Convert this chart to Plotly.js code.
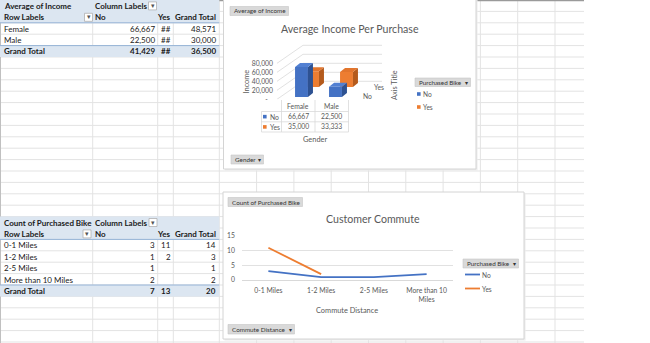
<!DOCTYPE html>
<html><head><meta charset="utf-8">
<script src="https://cdn.plot.ly/plotly-3.0.1.min.js"></script>
<style>html,body{margin:0;padding:0;background:#fff;}#chart{width:650px;height:343px;}</style>
</head><body><div id="chart"></div>
<script>
// ---------------- data ----------------
const genders = ['Female', 'Male'];
const purchaseSeries = ['No', 'Yes'];
const incomeNo = [66667, 22500];
const incomeYes = [35000, 33333];
const incomeRowTotal = [48571, 30000];
const incomeGrandNo = 41429;
const incomeGrandTotal = 36500;
const incomeYesShown = ['##', '##', '##'];
const incomeTicks = [0, 20000, 40000, 60000, 80000];
const incomeTickText = ['-\u00a0\u00a0\u00a0', '20,000', '40,000', '60,000', '80,000'];

const distances = ['0-1 Miles', '1-2 Miles', '2-5 Miles', 'More than 10 Miles'];
const countNo = [3, 1, 1, 2];
const countYes = [11, 2, null, null];
const countRowTotal = [14, 3, 1, 2];
const countGrand = [7, 13, 20];
const countTicks = [0, 5, 10, 15];

// ---------------- helpers ----------------
const W = 650, H = 343;
const px = x => x / W;
const py = y => 1 - y / H;
const domX = (a, b) => [px(a), px(b)];
const domY = (top, bottom) => [py(bottom), py(top)];
const fmt = v => v.toLocaleString('en-US');
const FONT = 'Lato';
const BLUE = '#4472C4', ORANGE = '#ED7D31', GREY = '#595959';

const shapes = [];
const annotations = [];
function line(x0, y0, x1, y1, color, width, layer) {
  shapes.push({type: 'line', xref: 'paper', yref: 'paper', x0: px(x0), y0: py(y0), x1: px(x1), y1: py(y1),
    line: {color: color, width: width}, layer: layer || 'below'});
}
function rect(x0, y0, x1, y1, fill, lineColor, lw, layer) {
  shapes.push({type: 'rect', xref: 'paper', yref: 'paper', x0: px(x0), y0: py(y0), x1: px(x1), y1: py(y1),
    fillcolor: fill, line: {color: lineColor || fill, width: lineColor ? lw : 0}, layer: layer || 'below'});
}
function txt(x, y, text, o) {
  o = o || {};
  annotations.push({xref: 'paper', yref: 'paper', x: px(x), y: py(y), text: o.bold ? '<b>' + text + '</b>' : text,
    showarrow: false, xanchor: o.anchor || 'left', yanchor: 'middle', textangle: o.angle || 0, borderpad: 0,
    font: {family: o.family || FONT, size: o.size || 8, color: o.color || '#1a1a1a'}});
}
function pivotDrop(x0, yc) {
  rect(x0, yc - 4, x0 + 8, yc + 4, '#ffffff', '#a8a8a8', 0.7, 'above');
  txt(x0 + 4, yc, '▾', {size: 7, family: 'DejaVu Sans', color: '#555', anchor: 'center'});
}
function fieldBtn(x0, y0, x1, y1, label, arrow) {
  rect(x0, y0, x1, y1, '#d9d9d9', '#c6c6c6', 0.6, 'above');
  txt(x0 + 2.5, (y0 + y1) / 2, label, {size: 6.3, color: '#333'});
  if (arrow) txt(x1 - 4, (y0 + y1) / 2, '▾', {size: 6, family: 'DejaVu Sans', color: '#333', anchor: 'center'});
}

// ---------------- spreadsheet background ----------------
const ROW = 11.4, GRID_RIGHT = 584;
const rc = k => ROW * k + 5.9;
for (let k = 1; k * ROW < H; k++) line(0, k * ROW, GRID_RIGHT, k * ROW, '#e3e3e3', 1);
const colX = [92.7, 157.7, 173.3, 219.3];
for (let x = 256.6; x < GRID_RIGHT; x += 37.3) colX.push(x);
colX.forEach(x => line(x, 0, x, H, '#e3e3e3', 1));
line(0, 0.6, GRID_RIGHT, 0.6, '#9a9a9a', 1.5);
line(0.5, 0, 0.5, H, '#c0c0c0', 1);

// pivot table 1
const HDR = '#DCE6F1', HLINE = '#95B3D7';
rect(0, 0, 219.3, 2 * ROW, HDR);
rect(0, 4 * ROW, 219.3, 5 * ROW, HDR);
line(0, 2 * ROW, 219.3, 2 * ROW, HLINE, 1);
line(0, 4 * ROW, 219.3, 4 * ROW, HLINE, 1);
// pivot table 2
const T2 = 19;
rect(0, T2 * ROW, 219.3, (T2 + 2) * ROW, HDR);
rect(0, (T2 + 6) * ROW, 219.3, (T2 + 7) * ROW, HDR);
line(0, (T2 + 2) * ROW, 219.3, (T2 + 2) * ROW, HLINE, 1);
line(0, (T2 + 6) * ROW, 219.3, (T2 + 6) * ROW, HLINE, 1);

// chart boxes
rect(225, 0, 477.5, 170.5, '#ececec');
rect(223.5, -1, 476, 169, '#ffffff', '#d4d4d4', 1);
rect(224.5, 193, 525.5, 340.5, '#ececec');
rect(223, 192, 524, 339, '#ffffff', '#d4d4d4', 1);

// 3D walls (gridlines of the income axis) on y4 scale
const WALL_FRONT = 277, WALL_BACK = 303, WALL_RIGHT = 382, WALL_DEPTH = 40000;
incomeTicks.forEach(v => {
  shapes.push({type: 'line', xref: 'paper', yref: 'y4', x0: px(WALL_FRONT), x1: px(WALL_BACK), y0: v, y1: v + WALL_DEPTH,
    line: {color: '#d9d9d9', width: 0.8}, layer: 'below'});
  shapes.push({type: 'line', xref: 'paper', yref: 'y4', x0: px(WALL_BACK), x1: px(WALL_RIGHT), y0: v + WALL_DEPTH, y1: v + WALL_DEPTH,
    line: {color: '#d9d9d9', width: 0.8}, layer: 'below'});
});

// ---------------- pivot table texts ----------------
const C_NO_R = 155.5, C_YES_R = 172, C_YES_C = 165.5, C_TOT_R = 217.5, C_B = 94;
txt(3, rc(0), 'Average of Income', {bold: true});
txt(C_B, rc(0), 'Column Labels', {bold: true});
pivotDrop(148.5, rc(0));
txt(3, rc(1), 'Row Labels', {bold: true});
pivotDrop(84.5, rc(1));
txt(C_B, rc(1), purchaseSeries[0], {bold: true});
txt(C_YES_R, rc(1), purchaseSeries[1], {bold: true, anchor: 'right'});
txt(C_TOT_R, rc(1), 'Grand Total', {bold: true, anchor: 'right'});
genders.forEach((g, i) => {
  txt(3, rc(2 + i), g);
  txt(C_NO_R, rc(2 + i), fmt(incomeNo[i]), {anchor: 'right'});
  txt(C_YES_C, rc(2 + i), incomeYesShown[i], {anchor: 'center'});
  txt(C_TOT_R, rc(2 + i), fmt(incomeRowTotal[i]), {anchor: 'right'});
});
txt(3, rc(4), 'Grand Total', {bold: true});
txt(C_NO_R, rc(4), fmt(incomeGrandNo), {bold: true, anchor: 'right'});
txt(C_YES_C, rc(4), incomeYesShown[2], {bold: true, anchor: 'center'});
txt(C_TOT_R, rc(4), fmt(incomeGrandTotal), {bold: true, anchor: 'right'});

txt(3, rc(T2), 'Count of Purchased Bike', {bold: true});
txt(C_B, rc(T2), 'Column Labels', {bold: true});
pivotDrop(149, rc(T2));
txt(3, rc(T2 + 1), 'Row Labels', {bold: true});
pivotDrop(83, rc(T2 + 1));
txt(C_B, rc(T2 + 1), purchaseSeries[0], {bold: true});
txt(C_YES_R, rc(T2 + 1), purchaseSeries[1], {bold: true, anchor: 'right'});
txt(C_TOT_R, rc(T2 + 1), 'Grand Total', {bold: true, anchor: 'right'});
distances.forEach((d, i) => {
  const r = rc(T2 + 2 + i);
  txt(3, r, d);
  if (countNo[i] != null) txt(C_NO_R, r, String(countNo[i]), {anchor: 'right'});
  if (countYes[i] != null) txt(C_YES_R, r, String(countYes[i]), {anchor: 'right'});
  txt(C_TOT_R, r, String(countRowTotal[i]), {anchor: 'right'});
});
txt(3, rc(T2 + 6), 'Grand Total', {bold: true});
txt(C_NO_R, rc(T2 + 6), String(countGrand[0]), {bold: true, anchor: 'right'});
txt(C_YES_R, rc(T2 + 6), String(countGrand[1]), {bold: true, anchor: 'right'});
txt(C_TOT_R, rc(T2 + 6), String(countGrand[2]), {bold: true, anchor: 'right'});

// ---------------- chart 1 : 3D clustered column ----------------
fieldBtn(230, 6.5, 288.5, 15.5, 'Average of Income', false);
txt(350, 28.5, 'Average Income Per Purchase', {size: 10.6, color: GREY, anchor: 'center'});
txt(246, 81.5, 'Income', {size: 7.4, color: GREY, anchor: 'center', angle: -90});
txt(394, 85, 'Axis Title', {size: 7.4, color: GREY, anchor: 'center', angle: -90});
txt(367, 95.5, purchaseSeries[0], {size: 6.8, color: GREY, anchor: 'center'});
txt(379, 87.5, purchaseSeries[1], {size: 6.8, color: GREY, anchor: 'center'});
txt(315, 139.5, 'Gender', {size: 7.4, color: GREY, anchor: 'center'});
fieldBtn(231, 155, 263.5, 164, 'Gender', true);
// legend
fieldBtn(415, 78, 470.5, 86.5, 'Purchased Bike', true);
[BLUE, ORANGE].forEach((c, i) => {
  const y = 94 + i * 13;
  rect(417, y - 1.8, 420.6, y + 1.8, c, null, 0, 'above');
  txt(422, y, purchaseSeries[i], {size: 6.6, color: GREY});
});
// data table
const TB_L = 261.5, TB_C = [281.5, 315, 348.5], TB_Y = [100, 111.5, 121.8, 132];
TB_C.forEach(x => line(x, TB_Y[0], x, TB_Y[3], '#d9d9d9', 0.8, 'above'));
line(TB_L, TB_Y[1], TB_L, TB_Y[3], '#d9d9d9', 0.8, 'above');
[1, 2, 3].forEach(k => line(TB_L, TB_Y[k], TB_C[2], TB_Y[k], '#d9d9d9', 0.8, 'above'));
genders.forEach((g, i) => txt((TB_C[i] + TB_C[i + 1]) / 2, 106, g, {size: 6.8, color: GREY, anchor: 'center'}));
[incomeNo, incomeYes].forEach((arr, s) => {
  const y = (TB_Y[1 + s] + TB_Y[2 + s]) / 2;
  rect(263, y - 1.8, 266.6, y + 1.8, [BLUE, ORANGE][s], null, 0, 'above');
  txt(268.8, y, purchaseSeries[s], {size: 6.8, color: GREY});
  arr.forEach((v, i) => txt((TB_C[i] + TB_C[i + 1]) / 2, y, fmt(v), {size: 6.8, color: GREY, anchor: 'center'}));
});

// ---------------- chart 2 : line ----------------
fieldBtn(228, 197.5, 302.5, 206.5, 'Count of Purchased Bike', false);
txt(373, 219.5, 'Customer Commute', {size: 10.6, color: GREY, anchor: 'center'});
txt(347, 310.5, 'Commute Distance', {size: 7.4, color: GREY, anchor: 'center'});
fieldBtn(228, 324.5, 294.5, 334, 'Commute Distance', true);
fieldBtn(463, 259, 518.5, 268, 'Purchased Bike', true);
[BLUE, ORANGE].forEach((c, i) => {
  const y = 274.5 + i * 14;
  line(465, y, 480, y, c, 1.8, 'above');
  txt(480.5, y, purchaseSeries[i], {size: 6.6, color: GREY});
});

// ---------------- traces ----------------
const BAR_W = 0.38, SIDE_DX = 5 / 34, SIDE_DY = 4 / 0.00045;
function prismFaces(values, xa, ya, sideColor, topColor) {
  const out = [];
  values.forEach((v, i) => {
    const r = i + BAR_W / 2, l = i - BAR_W / 2;
    out.push({type: 'scatter', mode: 'lines', xaxis: xa, yaxis: ya, fill: 'toself', fillcolor: sideColor,
      line: {width: 0, color: sideColor}, hoverinfo: 'skip', showlegend: false,
      x: [r, r + SIDE_DX, r + SIDE_DX, r, r], y: [0, SIDE_DY, v + SIDE_DY, v, 0]});
    out.push({type: 'scatter', mode: 'lines', xaxis: xa, yaxis: ya, fill: 'toself', fillcolor: topColor,
      line: {width: 0, color: topColor}, hoverinfo: 'skip', showlegend: false,
      x: [l, r, r + SIDE_DX, l + SIDE_DX, l], y: [v, v, v + SIDE_DY, v + SIDE_DY, v]});
  });
  return out;
}
const xIdx = genders.map((g, i) => i);
const traces = [];
// back row (Yes)
traces.push({type: 'bar', name: purchaseSeries[1], x: xIdx, y: incomeYes, width: BAR_W, xaxis: 'x', yaxis: 'y',
  marker: {color: ORANGE, line: {width: 0}}, hoverinfo: 'skip', showlegend: false});
traces.push(...prismFaces(incomeYes, 'x', 'y', '#B45A1C', '#E2752D'));
// front row (No)
traces.push({type: 'bar', name: purchaseSeries[0], x: xIdx, y: incomeNo, width: BAR_W, xaxis: 'x2', yaxis: 'y2',
  marker: {color: BLUE, line: {width: 0}}, hoverinfo: 'skip', showlegend: false});
traces.push(...prismFaces(incomeNo, 'x2', 'y2', '#2E5292', '#5280D2'));
// line chart
const distIdx = distances.map((d, i) => i);
traces.push({type: 'scatter', mode: 'lines', name: purchaseSeries[0], x: distIdx, y: countNo, xaxis: 'x3', yaxis: 'y3',
  line: {color: BLUE, width: 1.8}, showlegend: false, hoverinfo: 'skip'});
traces.push({type: 'scatter', mode: 'lines', name: purchaseSeries[1], x: distIdx, y: countYes, xaxis: 'x3', yaxis: 'y3',
  line: {color: ORANGE, width: 1.8}, showlegend: false, hoverinfo: 'skip'});

const wrapLabel = s => s.length > 12 ? s.replace(/ (\S+)$/, '<br>$1') : s;
const hidden = {visible: false, fixedrange: true};
const layout = {
  width: W, height: H, margin: {l: 0, r: 0, t: 0, b: 0, pad: 0},
  paper_bgcolor: '#ffffff', plot_bgcolor: 'rgba(0,0,0,0)', showlegend: false,
  font: {family: FONT, color: GREY},
  xaxis: Object.assign({domain: domX(295.5, 363.5), range: [-0.5, 1.5], anchor: 'y'}, hidden),
  yaxis: Object.assign({domain: domY(42, 87), range: [0, 100000], anchor: 'x'}, hidden),
  xaxis2: Object.assign({domain: domX(284.5, 352.5), range: [-0.5, 1.5], anchor: 'y2'}, hidden),
  yaxis2: Object.assign({domain: domY(52, 97), range: [0, 100000], anchor: 'x2'}, hidden),
  xaxis3: {domain: domX(242, 453), range: [-0.5, 3.5], anchor: 'y3', tickvals: distIdx, ticktext: distances.map(wrapLabel),
    showgrid: false, zeroline: false, showline: true, linecolor: '#d9d9d9', linewidth: 1, ticks: '',
    tickfont: {family: FONT, size: 6.8, color: GREY}, ticklabelstandoff: 4, fixedrange: true},
  yaxis3: {domain: domY(236, 280), range: [0, 15], anchor: 'x3', tickvals: countTicks, showgrid: true,
    gridcolor: '#d9d9d9', gridwidth: 0.8, zeroline: false, showline: false, ticks: '',
    tickfont: {family: FONT, size: 6.8, color: GREY}, ticklabelstandoff: 6, fixedrange: true},
  xaxis4: Object.assign({domain: domX(277, 278), range: [0, 1], anchor: 'y4'}, hidden),
  yaxis4: {domain: domY(36.3, 99.3), range: [0, 140000], anchor: 'x4', tickvals: incomeTicks, ticktext: incomeTickText,
    showgrid: false, zeroline: false, showline: false, ticks: '', ticklabelstandoff: 3,
    tickfont: {family: FONT, size: 6.8, color: GREY}, fixedrange: true},
  shapes: shapes, annotations: annotations
};
Plotly.newPlot('chart', traces, layout, {staticPlot: true, displayModeBar: false});
</script></body></html>
